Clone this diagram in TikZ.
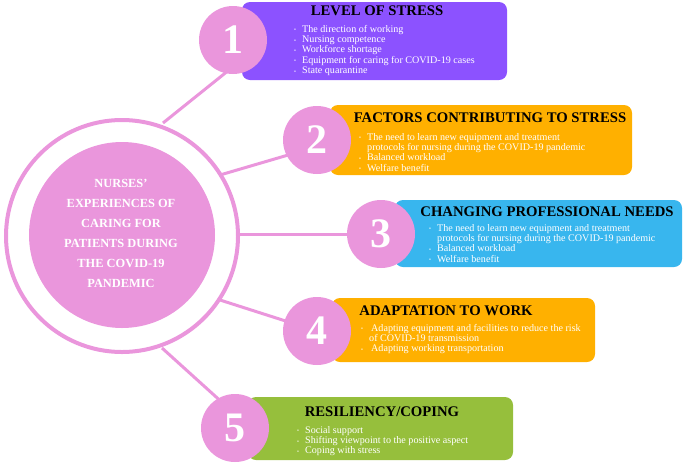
\documentclass[tikz,border=0pt]{standalone}
\usepackage{fontspec}
\setmainfont{Liberation Serif}
\usepackage{graphicx}
\definecolor{pinkc}{RGB}{234,150,220}
\definecolor{purplec}{RGB}{140,82,255}
\definecolor{orangec}{RGB}{255,176,0}
\definecolor{bluec}{RGB}{56,182,238}
\definecolor{greenc}{RGB}{150,191,60}
\newcommand\bul{\makebox[8pt][l]{\raisebox{0.5pt}{\scalebox{0.55}{•}}}}
\newcommand\ind{\hspace*{8pt}}
\begin{document}
\begin{tikzpicture}[x=1pt,y=-1pt,
  spoke/.style={draw=pinkc, line width=3pt},
  boxs/.style={rectangle, rounded corners=8pt, inner sep=0pt},
  numc/.style={circle, fill=pinkc, minimum size=68pt, inner sep=0pt, text=white, font=\bfseries\fontsize{42}{42}\selectfont},
  ttl/.style={font=\bfseries\fontsize{14.7}{14.7}\selectfont, text=black, inner sep=0pt},
  items/.style={align=left, font=\fontsize{10.1}{10.3}\selectfont, text=white, inner sep=0pt, anchor=north west},
]
\useasboundingbox (0,0) rectangle (685,464);
% spokes
\coordinate (s1a) at (163,123); \coordinate (s1b) at (229,70);
\coordinate (s2a) at (220,175); \coordinate (s2b) at (295,153);
\coordinate (s3a) at (238,234); \coordinate (s3b) at (355,234);
\coordinate (s4a) at (220,300); \coordinate (s4b) at (295,324);
\coordinate (s5a) at (162,348); \coordinate (s5b) at (225,405);
\draw[spoke] (s1a) -- (s1b);
\draw[spoke] (s2a) -- (s2b);
\draw[spoke] (s3a) -- (s3b);
\draw[spoke] (s4a) -- (s4b);
\draw[spoke] (s5a) -- (s5b);
% boxes
\node[boxs, fill=purplec, minimum width=265pt, minimum height=78pt] (b1) at (374.5,41) {};
\node[boxs, fill=orangec, minimum width=302pt, minimum height=70pt] (b2) at (481,140) {};
\node[boxs, fill=bluec, minimum width=287pt, minimum height=67pt] (b3) at (538.5,233.5) {};
\node[boxs, fill=orangec, minimum width=263pt, minimum height=64pt] (b4) at (463.5,330) {};
\node[boxs, fill=greenc, minimum width=265pt, minimum height=63pt] (b5) at (380.5,428.5) {};
% number circles
\node[numc] (n1) at (233,40) {1};
\node[numc] (n2) at (317,140) {2};
\node[numc] (n3) at (381,234) {3};
\node[numc] (n4) at (317,331) {4};
\node[numc] (n5) at (235,428) {5};
% central circle
\node[circle, draw=pinkc, line width=4pt, minimum size=232pt, inner sep=0pt] (ring) at (122,236) {};
\node[circle, fill=pinkc, minimum size=186pt, inner sep=0pt] (core) at (122,235) {};
\node[align=center, text=white, font=\bfseries\fontsize{12.4}{20}\selectfont, inner sep=0pt] (ctext) at (121,233)
  {NURSES’\\EXPERIENCES OF\\CARING FOR\\PATIENTS DURING\\THE COVID-19\\PANDEMIC};
% titles
\node[ttl] (t1) at (377,11) {LEVEL OF STRESS};
\node[ttl] (t2) at (490,118) {FACTORS CONTRIBUTING TO STRESS};
\node[ttl] (t3) at (547,212) {CHANGING PROFESSIONAL NEEDS};
\node[ttl] (t4) at (446,311) {ADAPTATION TO WORK};
\node[ttl] (t5) at (382,412) {RESILIENCY/COPING};
% items
\node[items] (l1) at (294,25) {\bul The direction of working\\\bul Nursing competence\\\bul Workforce shortage\\\bul Equipment for caring for COVID-19 cases\\\bul State quarantine};
\node[items] (l2) at (359,133) {\bul The need to learn new equipment and treatment\\\ind protocols for nursing during the COVID-19 pandemic\\\bul Balanced workload\\\bul Welfare benefit};
\node[items] (l3) at (429,224) {\bul The need to learn new equipment and treatment\\\ind protocols for nursing during the COVID-19 pandemic\\\bul Balanced workload\\\bul Welfare benefit};
\node[items] (l4) at (361,324) {\bul\hspace{2pt}Adapting equipment and facilities to reduce the risk\\\ind of COVID-19 transmission\\\bul\hspace{2pt}Adapting working transportation};
\node[items] (l5) at (297,426) {\bul Social support\\\bul Shifting viewpoint to the positive aspect\\\bul Coping with stress};
\end{tikzpicture}
\end{document}
